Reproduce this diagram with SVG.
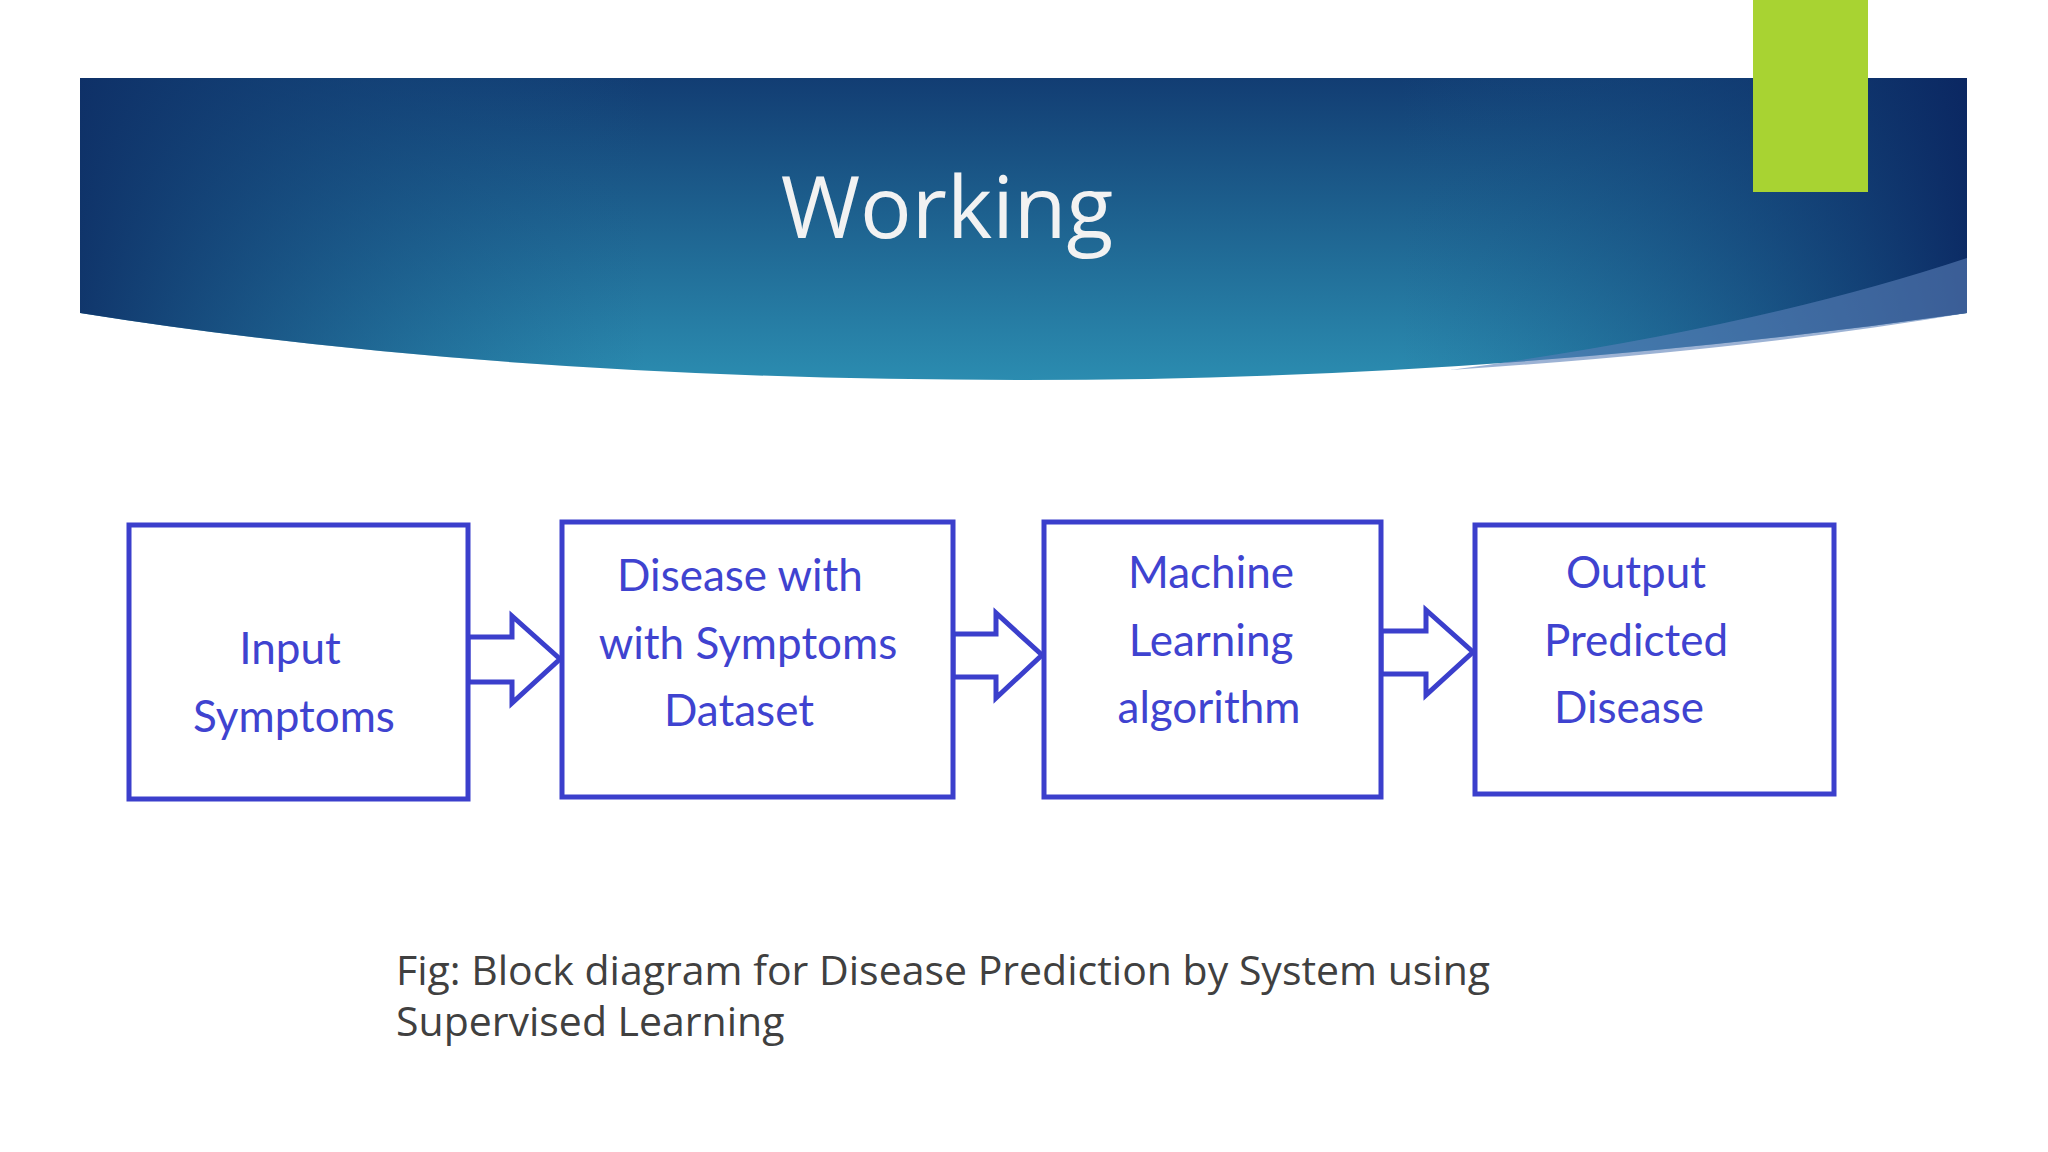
<svg xmlns="http://www.w3.org/2000/svg" width="2048" height="1152" viewBox="0 0 2048 1152">
<defs>
<linearGradient id="bg" x1="0" y1="0" x2="0" y2="1"><stop offset="0" stop-color="#123d73"/><stop offset="1" stop-color="#2b8cb0"/></linearGradient>
<linearGradient id="side" x1="0" y1="0" x2="1" y2="0"><stop offset="0" stop-color="#0e2f66" stop-opacity="0.9"/><stop offset="0.3" stop-color="#1a5a8c" stop-opacity="0"/><stop offset="0.7" stop-color="#1a5a8c" stop-opacity="0"/><stop offset="1" stop-color="#0a2560" stop-opacity="0.9"/></linearGradient>
<style>
.box{fill:#fff;stroke:#3b3fcc;stroke-width:5}
.arr{fill:#fff;stroke:#3b3fcc;stroke-width:5;stroke-linejoin:miter}
.t{font-family:Lato,"Open Sans",sans-serif;font-size:44px;fill:#3f43d0;text-anchor:middle}
.cap{font-family:"Open Sans","Noto Sans",sans-serif;font-size:41px;fill:#404040}
</style>
</defs>
<rect width="2048" height="1152" fill="#fff"/>
<g id="banner">
<path d="M80 78H1967V313Q1500 380 1024 380Q500 380 80 313Z" fill="url(#bg)"/>
<path d="M80 78H1967V313Q1500 380 1024 380Q500 380 80 313Z" fill="url(#side)"/>
<path d="M1450 370Q1750 330 1967 258V313Q1750 350 1450 370Z" fill="#5a7fb8" opacity="0.6"/>
<rect x="1753" y="0" width="115" height="192" fill="#a8d332"/>
<text x="947" y="238" font-family="'Open Sans','Noto Sans',sans-serif" font-size="86" fill="#f2f2f2" text-anchor="middle">Working</text>
</g>
<g id="connectors">
<path class="arr" d="M468 637H512V616L560 659L512 703V682H468Z"/>
<path class="arr" d="M953 634H996V613L1042 655L996 698V677H953Z"/>
<path class="arr" d="M1381 631H1426V610L1473 652L1426 695V674H1381Z"/>
</g>
<g id="n1"><rect class="box" x="129" y="525" width="339" height="274"/><text class="t" x="290" y="664">Input</text><text class="t" x="294" y="732">Symptoms</text></g>
<g id="n2"><rect class="box" x="562" y="522" width="391" height="275"/><text class="t" x="740" y="591">Disease with</text><text class="t" x="748" y="659">with Symptoms</text><text class="t" x="739" y="726">Dataset</text></g>
<g id="n3"><rect class="box" x="1044" y="522" width="337" height="275"/><text class="t" x="1211" y="588">Machine</text><text class="t" x="1211" y="656">Learning</text><text class="t" x="1209" y="723">algorithm</text></g>
<g id="n4"><rect class="box" x="1475" y="525" width="359" height="269"/><text class="t" x="1636" y="588">Output</text><text class="t" x="1636" y="656">Predicted</text><text class="t" x="1629" y="723">Disease</text></g>
<g id="caption"><text class="cap" x="396" y="985">Fig: Block diagram for Disease Prediction by System using</text><text class="cap" x="396" y="1036">Supervised Learning</text></g>
</svg>
